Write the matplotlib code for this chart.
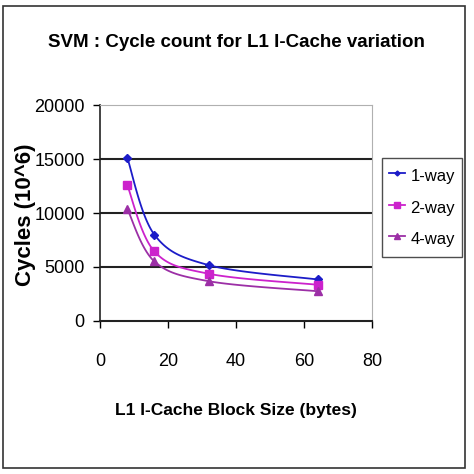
import numpy as np
import matplotlib
matplotlib.use("Agg")
import matplotlib.pyplot as plt
from matplotlib.patches import Rectangle

# ---------------- data ----------------
block_size = [8, 16, 32, 64]
way1 = [15150, 7990, 5170, 3840]
way2 = [12600, 6440, 4370, 3350]
way4 = [10410, 5510, 3680, 2750]
labels = ["1-way", "2-way", "4-way"]

plt.rcParams["font.family"] = ["Liberation Sans", "DejaVu Sans"]


def smooth(x, y, n=30):
    # Excel-like smoothed line (Catmull-Rom through the points)
    x = np.asarray(x, float)
    y = np.asarray(y, float)
    px = np.concatenate([[x[0]], x, [x[-1]]])
    py = np.concatenate([[y[0]], y, [y[-1]]])
    xs, ys = [], []
    t = np.linspace(0, 1, n)
    for i in range(1, len(px) - 2):
        p0, p1, p2, p3 = [np.array([px[j], py[j]]) for j in (i - 1, i, i + 1, i + 2)]
        c1 = p1 + (p2 - p0) / 6
        c2 = p2 - (p3 - p1) / 6
        b = ((1 - t) ** 3)[:, None] * p1 + (3 * (1 - t) ** 2 * t)[:, None] * c1 \
            + (3 * (1 - t) * t ** 2)[:, None] * c2 + (t ** 3)[:, None] * p2
        xs.extend(b[:, 0])
        ys.extend(b[:, 1])
    return xs, ys


fig = plt.figure(figsize=(4.74, 4.74), dpi=100)
ax = fig.add_axes([0.211, 0.323, 0.574, 0.455])

colors = ["#1c1cc8", "#cc22cc", "#9c2fa6"]
markers = ["D", "s", "^"]
msizes = [4, 6, 6]
series = [way1, way2, way4]
handles = []
for i in range(3):
    sx, sy = smooth(block_size, series[i])
    ax.plot(sx, sy, color=colors[i], linewidth=1.3)
    ax.plot(block_size, series[i], linestyle="none", marker=markers[i],
            markersize=msizes[i], color=colors[i])
    h, = ax.plot([], [], color=colors[i], linewidth=1.3, marker=markers[i],
                 markersize=msizes[i] - 1.5)
    handles.append(h)

ax.set_xlim(0, 80)
ax.set_ylim(0, 20000)
ax.set_xticks([0, 20, 40, 60, 80])
ax.set_yticks([0, 5000, 10000, 15000, 20000])
for yv in [5000, 10000, 15000]:
    ax.axhline(yv, color="#222222", linewidth=1.5, zorder=0)

ax.spines["left"].set_color("#222222")
ax.spines["bottom"].set_color("#222222")
ax.spines["left"].set_linewidth(1.2)
ax.spines["bottom"].set_linewidth(1.5)
ax.spines["top"].set_color("#b0b0b0")
ax.spines["right"].set_color("#b0b0b0")
ax.tick_params(direction="out", length=5, width=1, labelsize=13)
ax.tick_params(axis="x", pad=18)
ax.tick_params(axis="y", pad=6)

ax.set_xlabel("L1 I-Cache Block Size (bytes)", fontsize=12.5, fontweight="bold")
ax.xaxis.set_label_coords(0.5, -0.38)
ax.set_ylabel("Cycles (10^6)", fontsize=16, fontweight="bold")
ax.yaxis.set_label_coords(-0.236, 0.49)
fig.text(0.498, 0.911, "SVM : Cycle count for L1 I-Cache variation", ha="center",
         va="center", fontsize=13.5, fontweight="bold")

leg = ax.legend(handles, labels, loc="upper left", bbox_to_anchor=(1.037, 0.755),
                borderaxespad=0, fontsize=12, frameon=True, fancybox=False,
                handlelength=1.0, handleheight=1.7, handletextpad=0.3,
                labelspacing=0.54, borderpad=0.4)
leg.get_frame().set_edgecolor("#222222")
leg.get_frame().set_linewidth(1.0)

fig.patches.append(Rectangle((0.0063, 0.0127), 0.975, 0.975, transform=fig.transFigure,
                             fill=False, edgecolor="#333333", linewidth=1.2))

fig.savefig("out.png", dpi=100)
